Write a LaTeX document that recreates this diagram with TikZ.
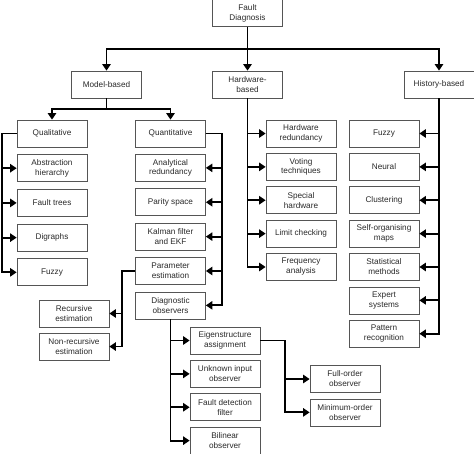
\documentclass[tikz,border=0pt]{standalone}
\usepackage{fontspec}
\setmainfont{Liberation Sans}
\usetikzlibrary{positioning,arrows.meta}
\definecolor{edge}{HTML}{555555}
\definecolor{ink}{HTML}{2A2A2A}

\begin{document}
\begin{tikzpicture}[x=0.3mm,y=-0.3mm,
  box/.style={draw=edge,line width=0.6pt,fill=white,minimum width=21mm,minimum height=8.1mm,align=center,font=\fontsize{7}{8.5}\selectfont,text=ink,inner sep=1pt},
  ln/.style={line width=1.6pt,black},
  arr/.style={ln,-{Triangle[length=5.5pt,width=7pt]}},
  node distance=1.7mm]
  \useasboundingbox (0,0) rectangle (474,453);
  % top levels
  \node[box] (fd) at (247.5,13) {Fault\\Diagnosis};
  \node[box] (model) at (106.5,84.5) {Model-based};
  \node[box] (hw) at (247.5,84.5) {Hardware-\\based};
  \node[box] (hist) at (439,84.5) {History-based};
  \node[box] (qual) at (52,133.5) {Qualitative};
  \node[box] (quant) at (170.5,133.5) {Quantitative};
  % qualitative
  \node[box,below=2.1mm of qual] (abst) {Abstraction\\hierarchy};
  \node[box,below=2.1mm of abst] (ftree) {Fault trees};
  \node[box,below=2.1mm of ftree] (digr) {Digraphs};
  \node[box,below=2.1mm of digr] (fuzq) {Fuzzy};
  % quantitative
  \node[box,below=2mm of quant] (anal) {Analytical\\redundancy};
  \node[box,below=2mm of anal] (par) {Parity space};
  \node[box,below=2mm of par] (kal) {Kalman filter\\and EKF};
  \node[box,below=2mm of kal] (pest) {Parameter\\estimation};
  \node[box,below=2mm of pest] (dobs) {Diagnostic\\observers};
  \node[box] (rec) at (74,313.5) {Recursive\\estimation};
  \node[box,below=1.6mm of rec] (nrec) {Non-recursive\\estimation};
  \node[box] (eig) at (225,340.5) {Eigenstructure\\assignment};
  \node[box,below=of eig] (uio) {Unknown input\\observer};
  \node[box,below=of uio] (fdf) {Fault detection\\filter};
  \node[box,below=of fdf] (bil) {Bilinear\\observer};
  \node[box] (full) at (345,379) {Full-order\\observer};
  \node[box,below=of full] (mino) {Minimum-order\\observer};
  % hardware
  \node[box] (hred) at (301,133.5) {Hardware\\redundancy};
  \node[box,below=of hred] (vote) {Voting\\techniques};
  \node[box,below=of vote] (spec) {Special\\hardware};
  \node[box,below=of spec] (lim) {Limit checking};
  \node[box,below=of lim] (freq) {Frequency\\analysis};
  % history
  \node[box] (fuzh) at (384,133.5) {Fuzzy};
  \node[box,below=of fuzh] (neur) {Neural};
  \node[box,below=of neur] (clus) {Clustering};
  \node[box,below=of clus] (som) {Self-organising\\maps};
  \node[box,below=of som] (stat) {Statistical\\methods};
  \node[box,below=of stat] (expt) {Expert\\systems};
  \node[box,below=of expt] (patt) {Pattern\\recognition};
  % connectors
  \coordinate (top) at (247.5,49);
  \coordinate (mbus) at (106.5,109);
  \draw[arr] (fd.south) -- (hw.north);
  \draw[arr] (top) -| (model.north);
  \draw[arr] (top) -| (hist.north);
  \draw[ln] (model.south) -- (mbus);
  \draw[arr] (mbus) -| (qual.north);
  \draw[arr] (mbus) -| (quant.north);
  \foreach \n in {abst,ftree,digr,fuzq}
    \draw[arr] (qual.west) -- ++(-15,0) |- (\n.west);
  \foreach \n in {anal,par,kal,pest,dobs}
    \draw[arr] (quant.east) -- ++(16,0) |- (\n.east);
  \foreach \n in {rec,nrec}
    \draw[arr] (pest.west) -- ++(-13.5,0) |- (\n.east);
  \foreach \n in {eig,uio,fdf,bil}
    \draw[arr] (dobs.south) |- (\n.west);
  \foreach \n in {full,mino}
    \draw[arr] (eig.east) -- ++(25,0) |- (\n.west);
  \foreach \n in {hred,vote,spec,lim,freq}
    \draw[arr] (hw.south) |- (\n.west);
  \foreach \n in {fuzh,neur,clus,som,stat,expt,patt}
    \draw[arr] (hist.south) |- (\n.east);
\end{tikzpicture}
\end{document}
